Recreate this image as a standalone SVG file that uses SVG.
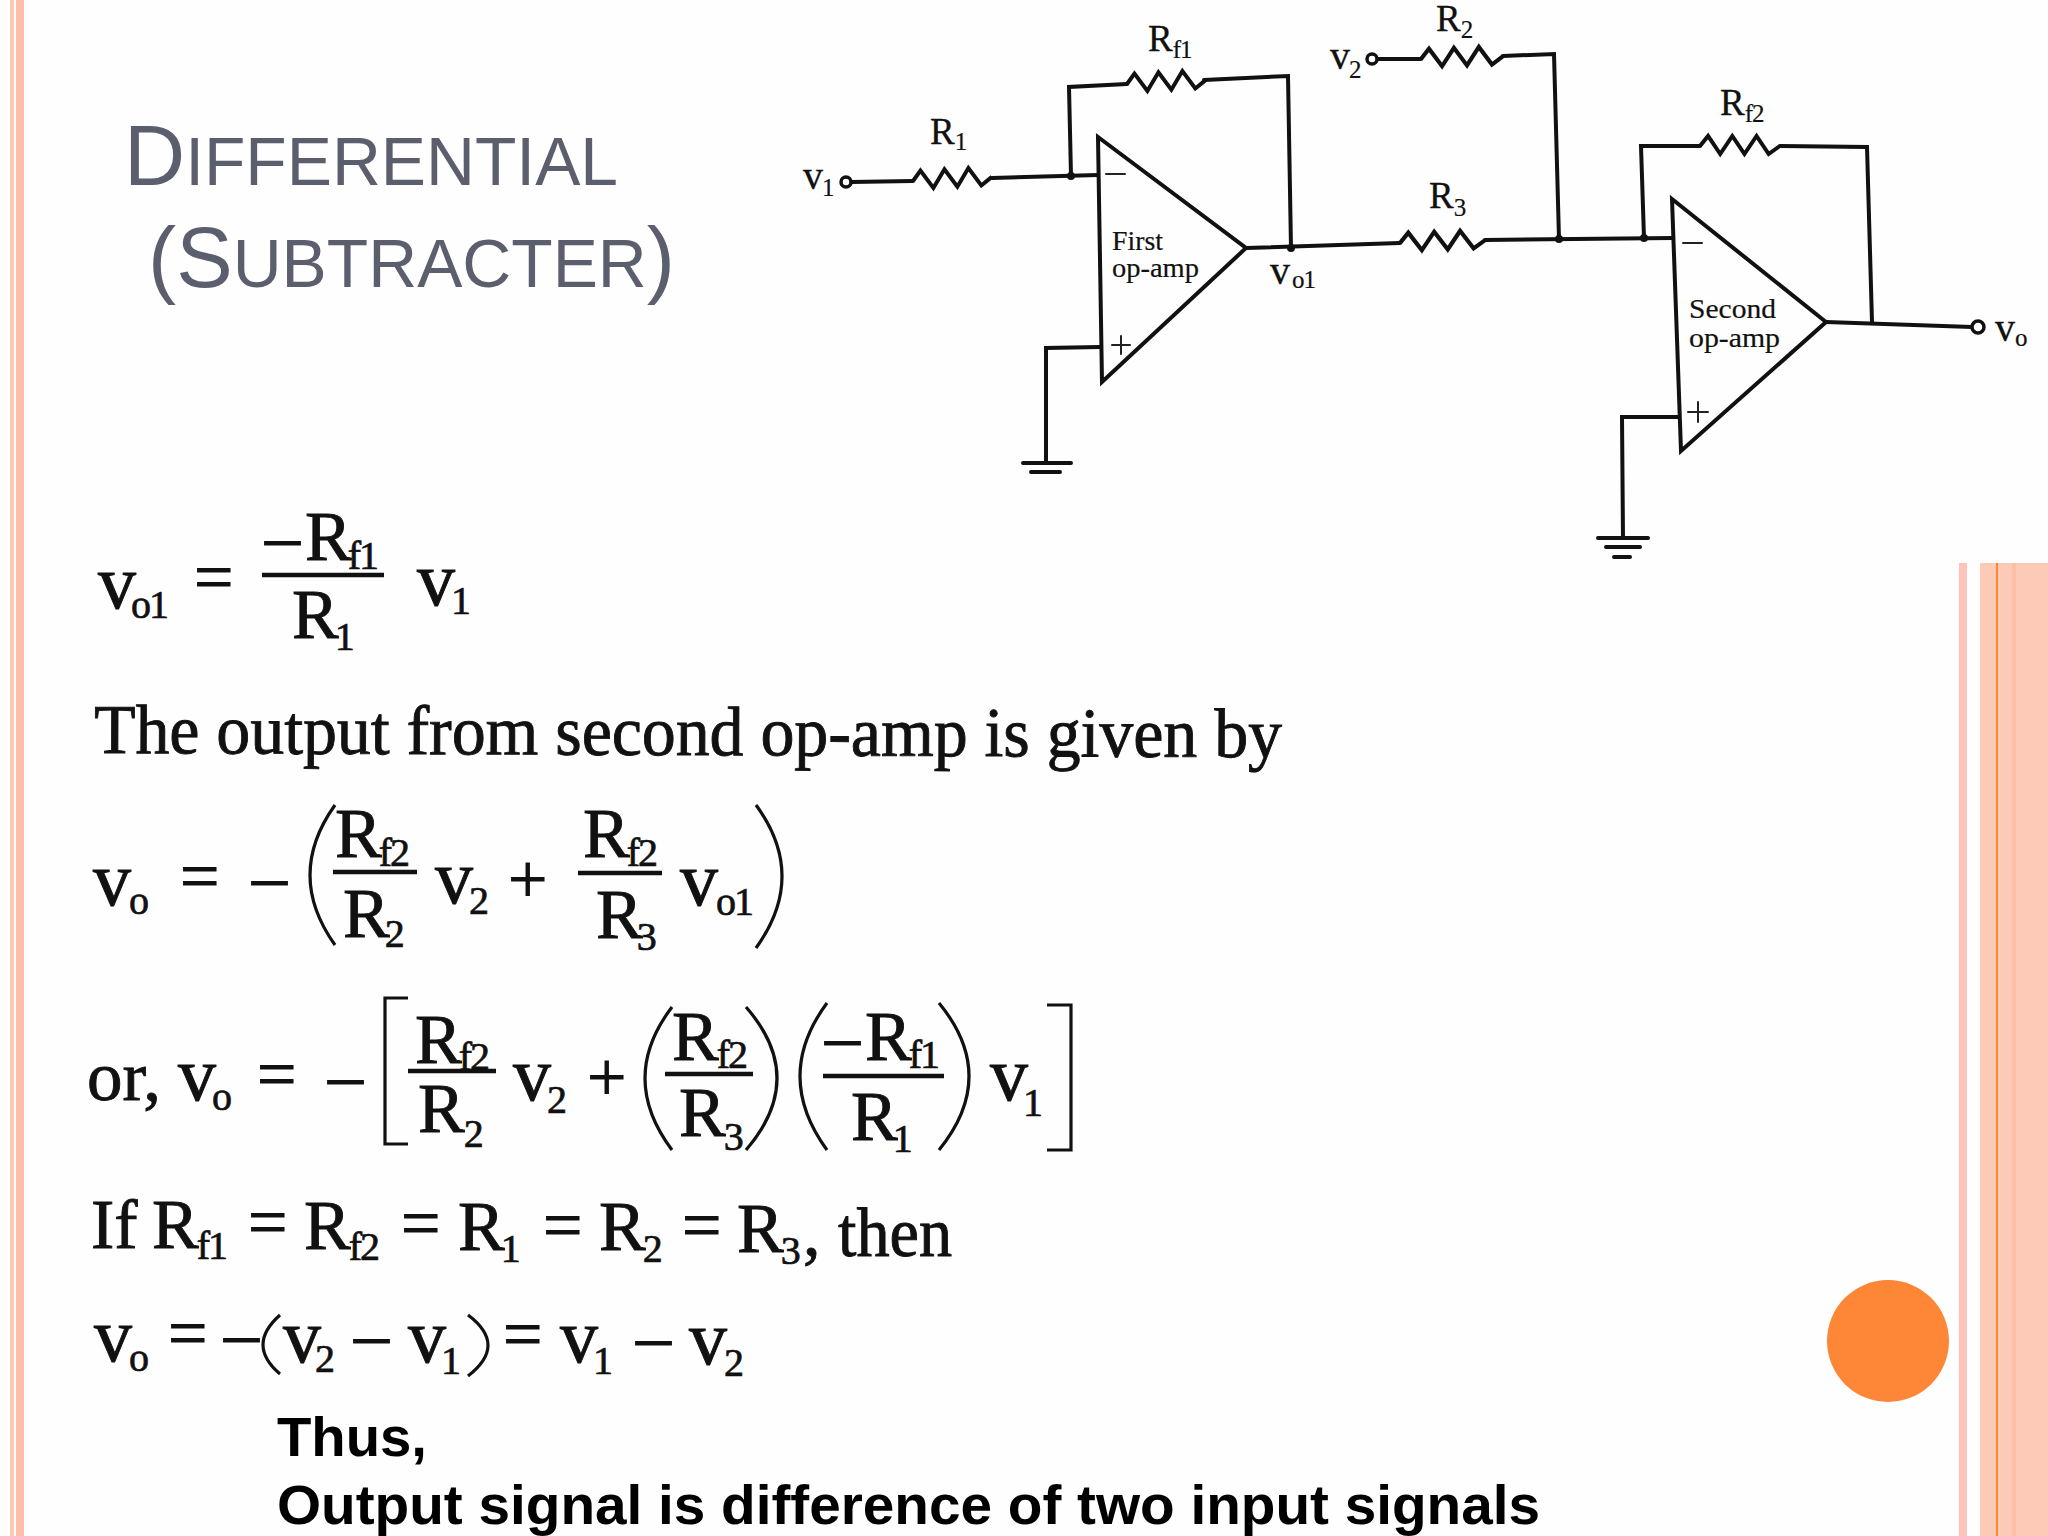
<svg xmlns="http://www.w3.org/2000/svg" width="2048" height="1536" viewBox="0 0 2048 1536">
<defs>
<style>
.w{fill:none;stroke:#111;stroke-width:4;stroke-linejoin:miter;stroke-linecap:round}
.th{fill:none;stroke:#222;stroke-width:2;stroke-linecap:round}
.fr{fill:none;stroke:#111;stroke-width:4.5}
.br{fill:none;stroke:#111;stroke-width:3.2}
.c,.o,.cv,.m,.v{font-family:"Liberation Serif","Times New Roman",serif;fill:#111;stroke:#111}
.c{font-size:37px;stroke-width:.3}
.cv{font-size:40px;stroke-width:.3}
.cs{font-size:25px;stroke-width:.2;letter-spacing:-1px}
.o{font-size:27px;stroke-width:.2}
.m{font-size:70px;stroke-width:.9}
.v{font-size:76px;stroke-width:.9}
.s{font-size:40px;stroke-width:.7;letter-spacing:-2px}
.t{font-family:"Liberation Sans",Arial,sans-serif;fill:#5b5f6d;font-size:68px}
.T{font-size:85px}
.b{font-family:"Liberation Sans",Arial,sans-serif;font-weight:bold;fill:#000;font-size:56px}
</style>
<path id="res" d="M0 0l8 -10l12 18l12 -18l12 18l12 -18l12 18l11 -8" fill="none" stroke="#111" stroke-width="4"/>
</defs>
<rect width="2048" height="1536" fill="#fefefe"/>
<g id="decor">
<rect x="10" y="0" width="4" height="1536" fill="#fcc9b5"/>
<rect x="16" y="0" width="8" height="1536" fill="#fdbfa5"/>
<rect x="1959" y="563" width="8" height="973" fill="#fec4ba"/>
<rect x="1980" y="563" width="68" height="973" fill="#fccab6"/>
<rect x="1996" y="563" width="2" height="973" fill="#fd8637"/>
<rect x="2012" y="563" width="4" height="973" fill="#fcc0a6"/>
<circle cx="1888" cy="1341" r="61" fill="#fd8637"/>
</g>
<g id="title">
<text class="t" x="124" y="185" textLength="494" lengthAdjust="spacingAndGlyphs"><tspan class="T">D</tspan>IFFERENTIAL</text>
<text class="t" x="148" y="287" textLength="527" lengthAdjust="spacingAndGlyphs"><tspan class="T">(S</tspan>UBTRACTER<tspan class="T">)</tspan></text>
</g>
<g id="connectors">
<path class="w" d="M851 182L913 181"/>
<path class="w" d="M992 178L1098 175"/>
<path class="w" d="M1071 176L1069 87L1127 84"/>
<path class="w" d="M1204 80L1288 76L1291 248"/>
<path class="w" d="M1246 248L1400 243"/>
<path class="w" d="M1378 59L1421 59"/>
<path class="w" d="M1503 56L1554 54L1559 239"/>
<path class="w" d="M1485 240L1673 238"/>
<path class="w" d="M1644 238L1641 146L1700 146"/>
<path class="w" d="M1780 146L1867 147L1872 322"/>
<path class="w" d="M1826 322L1972 327"/>
<path class="w" d="M1100 347L1046 348L1046 463"/>
<path class="w" d="M1679 417L1622 417L1623 538"/>
<circle cx="1071" cy="176" r="4" fill="#111"/>
<circle cx="1291" cy="248" r="4" fill="#111"/>
<circle cx="1559" cy="239" r="4" fill="#111"/>
<circle cx="1644" cy="238" r="4" fill="#111"/>
</g>
<g id="v1-terminal"><circle cx="846" cy="182" r="5" fill="#fff" stroke="#111" stroke-width="3.5"/><text class="cv" x="803" y="189">v<tspan class="cs" dx="-1" dy="7">1</tspan></text></g>
<g id="v2-terminal"><circle cx="1372" cy="59" r="5" fill="#fff" stroke="#111" stroke-width="3.5"/><text class="cv" x="1330" y="69">v<tspan class="cs" dx="-1" dy="9">2</tspan></text></g>
<g id="vo-terminal"><circle cx="1978" cy="327" r="6" fill="#fff" stroke="#111" stroke-width="3.5"/><text class="cv" x="1995" y="341">v<tspan class="cs" dy="5">o</tspan></text></g>
<g id="r1"><use href="#res" transform="translate(913 181) rotate(-3)"/><text class="c" x="930" y="144">R<tspan class="cs" dy="6">1</tspan></text></g>
<g id="rf1"><use href="#res" transform="translate(1127 84) rotate(-3)"/><text class="c" x="1148" y="51">R<tspan class="cs" dy="7">f1</tspan></text></g>
<g id="r2"><use href="#res" transform="translate(1421 59) rotate(-2) scale(1.04 1)"/><text class="c" x="1436" y="31">R<tspan class="cs" dy="7">2</tspan></text></g>
<g id="r3"><use href="#res" transform="translate(1400 243) rotate(-2) scale(1.08 1)"/><text class="c" x="1429" y="208">R<tspan class="cs" dy="8">3</tspan></text></g>
<g id="rf2"><use href="#res" transform="translate(1700 146) scale(1.01 1)"/><text class="c" x="1720" y="115">R<tspan class="cs" dy="7">f2</tspan></text></g>
<g id="op-amp-1">
<path class="w" d="M1098 137L1246 248L1102 382Z"/>
<path class="th" d="M1106 174H1125M1112 345H1130M1121 336V354"/>
<text class="o" x="1112" y="250" textLength="51" lengthAdjust="spacingAndGlyphs">First</text><text class="o" x="1112" y="277" textLength="87" lengthAdjust="spacingAndGlyphs">op-amp</text>
</g>
<g id="vo1-label"><text class="cv" x="1270" y="284">v<tspan class="cs" dx="2" dy="4">o1</tspan></text></g>
<g id="op-amp-2">
<path class="w" d="M1672 199L1826 322L1681 451Z"/>
<path class="th" d="M1683 243H1702M1688 412H1708M1698 402V422"/>
<text class="o" x="1689" y="318" textLength="87" lengthAdjust="spacingAndGlyphs">Second</text><text class="o" x="1689" y="347" textLength="91" lengthAdjust="spacingAndGlyphs">op-amp</text>
</g>
<g id="ground-1"><path class="w" d="M1023 463H1071M1031 472H1060"/></g>
<g id="ground-2"><path class="w" d="M1598 538H1648M1606 547H1640M1614 557H1630"/></g>
<g id="eq1">
<text class="v" x="98" y="608">v<tspan class="s" dx="-5" dy="10">o1</tspan></text>
<text class="m" x="194" y="601">=</text>
<text class="m" x="265" y="560">–</text><text class="m" x="305" y="560">R<tspan class="s" dx="-4" dy="9">f1</tspan></text>
<path class="fr" d="M262 575H384"/>
<text class="m" x="292" y="638">R<tspan class="s" dx="-4" dy="12">1</tspan></text>
<text class="v" x="417" y="605">v<tspan class="s" dx="-4" dy="9">1</tspan></text>
</g>
<g id="eq2"><text class="m" x="94" y="753" textLength="1188" lengthAdjust="spacingAndGlyphs" transform="rotate(0.2 94 753)">The output from second op-amp is given by</text></g>
<g id="eq3">
<text class="v" x="93" y="905">v<tspan class="s" dx="-2" dy="9">o</tspan></text>
<text class="m" x="180" y="900">=</text><text class="m" x="252" y="900">–</text>
<path class="br" d="M335 805Q285 875 335 945"/>
<text class="m" x="335" y="857">R<tspan class="s" dx="-3" dy="9">f2</tspan></text><path class="fr" d="M333 872H417"/>
<text class="m" x="343" y="937">R<tspan class="s" dx="-5" dy="10">2</tspan></text>
<text class="v" x="435" y="903">v<tspan class="s" dx="-4" dy="11">2</tspan></text>
<text class="m" x="508" y="903">+</text>
<text class="m" x="583" y="857">R<tspan class="s" dx="-3" dy="9">f2</tspan></text><path class="fr" d="M578 873H662"/>
<text class="m" x="596" y="938">R<tspan class="s" dx="-6" dy="12">3</tspan></text>
<text class="v" x="680" y="905">v<tspan class="s" dx="-2" dy="10">o1</tspan></text>
<path class="br" d="M756 805Q808 876 756 948"/>
</g>
<g id="eq4">
<text class="m" x="87" y="1100" textLength="74" lengthAdjust="spacingAndGlyphs">or,</text><text class="v" x="178" y="1100">v<tspan class="s" dx="-4" dy="10">o</tspan></text>
<text class="m" x="257" y="1098">=</text><text class="m" x="328" y="1099">–</text>
<path class="br" d="M408 998H385V1144H408"/>
<text class="m" x="415" y="1063">R<tspan class="s" dx="-3" dy="7">f2</tspan></text><path class="fr" d="M408 1071H496"/>
<text class="m" x="418" y="1132">R<tspan class="s" dx="-1" dy="15">2</tspan></text>
<text class="v" x="513" y="1100">v<tspan class="s" dx="-4" dy="13">2</tspan></text>
<text class="m" x="587" y="1101">+</text>
<path class="br" d="M672 1007Q618 1078 672 1150"/>
<text class="m" x="672" y="1060">R<tspan class="s" dx="-2" dy="8">f2</tspan></text><path class="fr" d="M665 1074H753"/>
<text class="m" x="679" y="1136">R<tspan class="s" dx="-2" dy="14">3</tspan></text>
<path class="br" d="M746 1007Q808 1078 746 1150"/>
<path class="br" d="M827 1003Q773 1076 827 1150"/>
<text class="m" x="825" y="1060">–</text><text class="m" x="865" y="1060">R<tspan class="s" dx="-3" dy="8">f1</tspan></text><path class="fr" d="M823 1076H944"/>
<text class="m" x="851" y="1140">R<tspan class="s" dx="-5" dy="12">1</tspan></text>
<path class="br" d="M939 1003Q999 1076 939 1150"/>
<text class="v" x="990" y="1100">v<tspan class="s" dx="-5" dy="16">1</tspan></text>
<path class="br" d="M1047 1005H1071V1150H1047"/>
</g>
<g id="eq5">
<text class="m" x="91" y="1248">If</text>
<text class="m" x="152" y="1248">R<tspan class="s" dx="-2" dy="11">f1</tspan></text>
<text class="m" x="248" y="1246">=</text>
<text class="m" x="304" y="1249">R<tspan class="s" dx="-2" dy="11">f2</tspan></text>
<text class="m" x="401" y="1247">=</text>
<text class="m" x="458" y="1250">R<tspan class="s" dx="-4" dy="12">1</tspan></text>
<text class="m" x="543" y="1249">=</text>
<text class="m" x="599" y="1250">R<tspan class="s" dx="-3" dy="12">2</tspan></text>
<text class="m" x="682" y="1249">=</text>
<text class="m" x="737" y="1252">R<tspan class="s" dx="-3" dy="12">3</tspan></text>
<text class="m" x="803" y="1255">,</text>
<text class="m" x="838" y="1256" textLength="114" lengthAdjust="spacingAndGlyphs">then</text>
</g>
<g id="eq6">
<text class="v" x="94" y="1361">v<tspan class="s" dx="-3" dy="10">o</tspan></text>
<text class="m" x="168" y="1357">=</text><text class="m" x="224" y="1357">–</text>
<path class="br" d="M280 1315Q246 1345 280 1374"/>
<text class="v" x="283" y="1362">v<tspan class="s" dx="-6" dy="10">2</tspan></text>
<text class="m" x="354" y="1358">–</text>
<text class="v" x="408" y="1362">v<tspan class="s" dx="-5" dy="12">1</tspan></text>
<path class="br" d="M468 1315Q508 1345 468 1376"/>
<text class="m" x="503" y="1358">=</text>
<text class="v" x="560" y="1362">v<tspan class="s" dx="-5" dy="12">1</tspan></text>
<text class="m" x="636" y="1360">–</text>
<text class="v" x="689" y="1364">v<tspan class="s" dx="-3" dy="12">2</tspan></text>
</g>
<g id="conclusion">
<text class="b" x="277" y="1456" textLength="150" lengthAdjust="spacingAndGlyphs">Thus,</text>
<text class="b" x="277" y="1524" textLength="1263" lengthAdjust="spacingAndGlyphs">Output signal is difference of two input signals</text>
</g>
</svg>
